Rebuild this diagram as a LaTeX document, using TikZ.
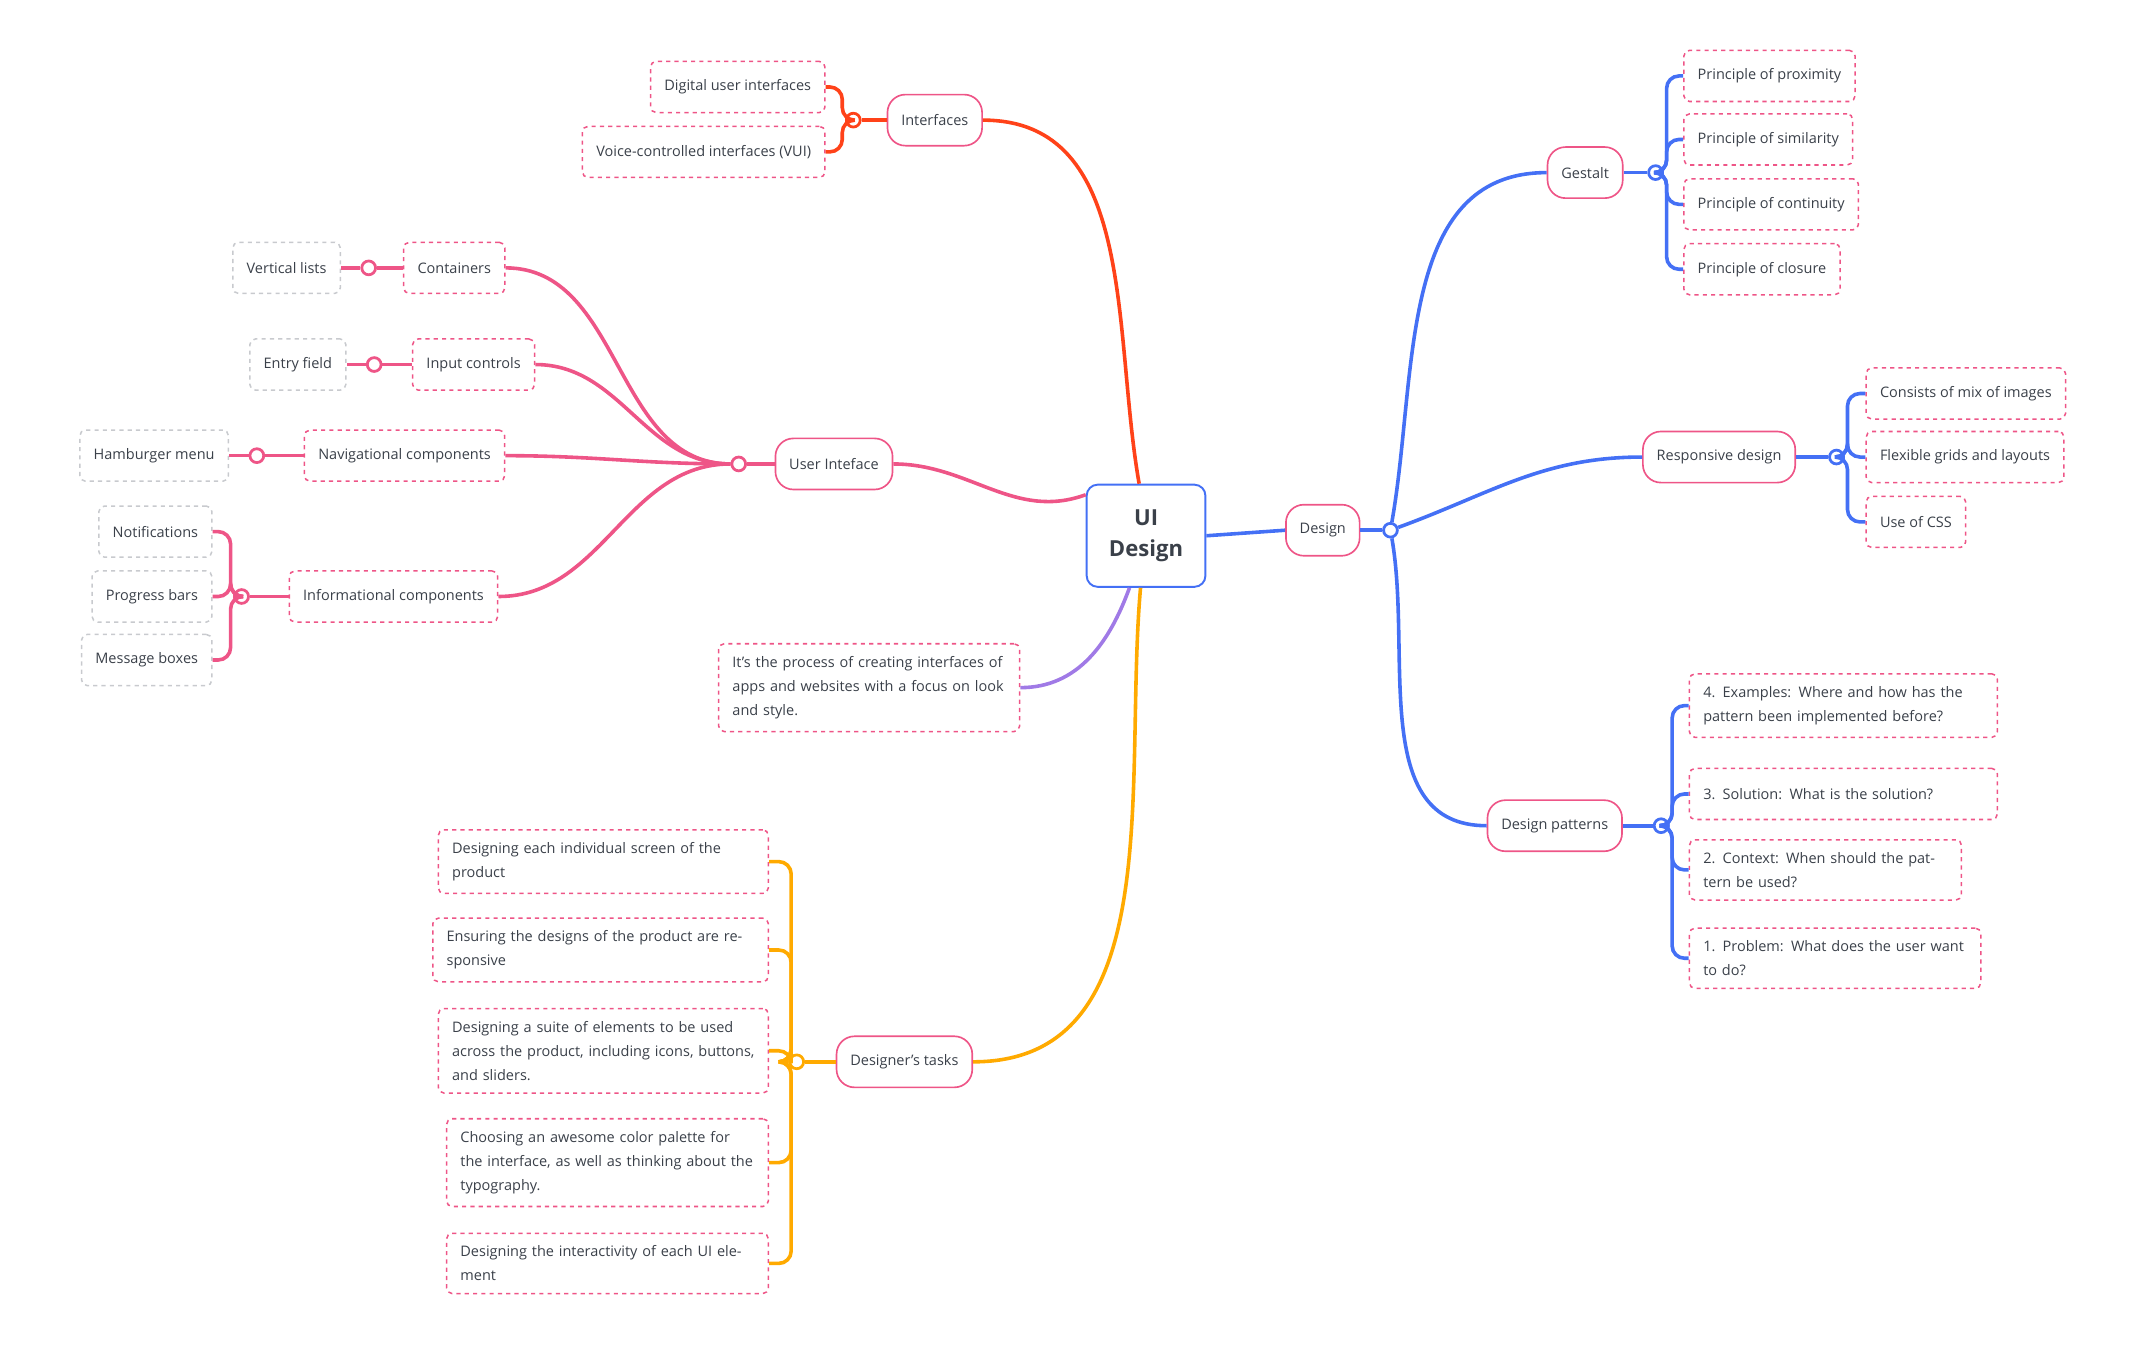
\documentclass[tikz,border=0pt]{standalone}
\usepackage{fontspec}
\setmainfont{Open Sans}
\definecolor{tx}{HTML}{3A4049}
\definecolor{pk}{HTML}{EE5587}
\definecolor{rd}{HTML}{FF4219}
\definecolor{bl}{HTML}{4470F5}
\definecolor{og}{HTML}{FFAA00}
\definecolor{pu}{HTML}{A07AE6}
\definecolor{gy}{HTML}{C8CACE}
\tikzset{
 pill/.style={draw=pk,line width=1.2pt,rounded corners=13pt,minimum height=37pt,inner xsep=10pt,text=tx,font=\fontsize{10.5}{17.5}\selectfont},
 leaf/.style={draw=pk,dashed,line width=1.1pt,rounded corners=4pt,minimum height=37pt,inner xsep=10pt,inner ysep=9pt,text=tx,font=\fontsize{10.5}{17.5}\selectfont,align=left},
 gleaf/.style={leaf,draw=gy},
 hub/.style={circle,draw=#1,fill=white,line width=2pt,inner sep=0pt,minimum size=10pt},
 br/.style={draw=#1,line width=2.6pt},
 rc/.style={br=#1,rounded corners=9pt},
}
\begin{document}
\begin{tikzpicture}[x=1pt,y=-1pt]
\useasboundingbox (0,0) rectangle (1560,975);
% center
\node[draw=bl,line width=1.4pt,rounded corners=8pt,minimum width=86pt,minimum height=74pt,align=center,text=tx,font=\fontsize{16}{23}\selectfont\bfseries] (c) at (830,388) {UI\\Design};
% Design branch
\node[pill] (d) at (958,384) {Design};
\node[hub=bl] (dh) at (1007,384) {};
\node[pill] (g) at (1148,125) {Gestalt};
\node[hub=bl] (gh) at (1199,125) {};
\node[leaf,anchor=west] (g1) at (1219,55) {Principle of proximity};
\node[leaf,anchor=west] (g2) at (1219,101) {Principle of similarity};
\node[leaf,anchor=west] (g3) at (1219,148) {Principle of continuity};
\node[leaf,anchor=west] (g4) at (1219,195) {Principle of closure};
\node[pill] (r) at (1245,331) {Responsive design};
\node[hub=bl] (rh) at (1330,331) {};
\node[leaf,anchor=west] (r1) at (1351,285) {Consists of mix of images};
\node[leaf,anchor=west] (r2) at (1351,331) {Flexible grids and layouts};
\node[leaf,anchor=west] (r3) at (1351,378) {Use of CSS};
\node[pill] (p) at (1126,598) {Design patterns};
\node[hub=bl] (ph) at (1203,598) {};
\node[leaf,anchor=west,text width=203pt] (p4) at (1223,511) {4. Examples: Where and how has the pattern been implemented before?};
\node[leaf,anchor=west,text width=203pt] (p3) at (1223,575) {3. Solution: What is the solution?};
\node[leaf,anchor=west,text width=177pt] (p2) at (1223,630) {2. Context: When should the pattern be used?};
\node[leaf,anchor=west,text width=191pt] (p1) at (1223,694) {1. Problem: What does the user want to do?};
\draw[br=bl] (c.east) -- (d.west);
\draw[br=bl] (d.east) -- (dh);
\draw[br=bl] (dh) to[out=80,in=180] (g.west);
\draw[br=bl] (dh) to[out=20,in=180] (r.west);
\draw[br=bl] (dh) to[out=-80,in=180] (p.west);
\draw[br=bl] (g.east) -- (gh); \draw[br=bl] (r.east) -- (rh); \draw[br=bl] (p.east) -- (ph);
\foreach \t in {g1,g2,g3,g4} \draw[rc=bl] (gh) -- ++(8,0) |- (\t.west);
\foreach \t in {r1,r2,r3} \draw[rc=bl] (rh) -- ++(8,0) |- (\t.west);
\foreach \t in {p1,p2,p3,p4} \draw[rc=bl] (ph) -- ++(8,0) |- (\t.west);
% Interfaces
\node[pill] (i) at (677,87) {Interfaces};
\node[hub=rd] (ih) at (618,87) {};
\node[leaf,anchor=east] (i1) at (598,63) {Digital user interfaces};
\node[leaf,anchor=east] (i2) at (598,110) {Voice-controlled interfaces (VUI)};
\draw[br=rd] ([xshift=-5pt]c.north) to[out=100,in=0] (i.east);
\draw[br=rd] (i.west) -- (ih);
\foreach \t in {i1,i2} \draw[rc=rd] (ih) -- ++(-8,0) |- (\t.east);
% User interface
\node[pill] (u) at (604,336) {User Inteface};
\node[hub=pk] (uh) at (535,336) {};
\node[leaf] (u1) at (329,194) {Containers};
\node[hub=pk] (u1h) at (267,194) {};
\node[gleaf,anchor=east] (u1a) at (247,194) {Vertical lists};
\node[leaf] (u2) at (343,264) {Input controls};
\node[hub=pk] (u2h) at (271,264) {};
\node[gleaf,anchor=east] (u2a) at (251,264) {Entry field};
\node[leaf] (u3) at (293,330) {Navigational components};
\node[hub=pk] (u3h) at (186,330) {};
\node[gleaf,anchor=east] (u3a) at (166,330) {Hamburger menu};
\node[leaf] (u4) at (285,432) {Informational components};
\node[hub=pk] (u4h) at (175,432) {};
\node[gleaf,anchor=east] (u4a) at (154,385) {Notifications};
\node[gleaf,anchor=east] (u4b) at (154,432) {Progress bars};
\node[gleaf,anchor=east] (u4c) at (154,478) {Message boxes};
\draw[br=pk] (c.north west) ++(0,8) to[out=200,in=0] (u.east);
\draw[br=pk] (u.west) -- (uh);
\foreach \t in {u1,u2,u3,u4} \draw[br=pk] (uh) to[out=180,in=0] (\t.east);
\draw[br=pk] (u1.west) -- (u1h) -- (u1a.east);
\draw[br=pk] (u2.west) -- (u2h) -- (u2a.east);
\draw[br=pk] (u3.west) -- (u3h) -- (u3a.east);
\draw[br=pk] (u4.west) -- (u4h);
\foreach \t in {u4a,u4b,u4c} \draw[rc=pk] (u4h) -- ++(-8,0) |- (\t.east);
% description
\node[leaf,text width=198pt,anchor=east] (desc) at (739,498) {It’s the process of creating interfaces of apps and websites with a focus on look and style.};
\draw[br=pu] ([xshift=-12pt]c.south) to[out=-110,in=0] (desc.east);
% Designer's tasks
\node[pill] (t) at (655,769) {Designer's tasks};
\node[hub=og] (th) at (577,769) {};
\node[leaf,anchor=east,text width=219pt] (t1) at (557,624) {Designing each individual screen of the product};
\node[leaf,anchor=east,text width=223pt] (t2) at (557,688) {Ensuring the designs of the product are responsive};
\node[leaf,anchor=east,text width=219pt] (t3) at (557,761) {Designing a suite of elements to be used across the product, including icons, buttons, and sliders.};
\node[leaf,anchor=east,text width=213pt] (t4) at (557,842) {Choosing an awesome color palette for the interface, as well as thinking about the typography.};
\node[leaf,anchor=east,text width=213pt] (t5) at (557,915) {Designing the interactivity of each UI element};
\draw[br=og] ([xshift=-4pt]c.south) to[out=-95,in=0] (t.east);
\draw[br=og] (t.west) -- (th);
\foreach \t in {t1,t2,t3,t4,t5} \draw[rc=og] (th) -- ++(-4,0) |- (\t.east);
\end{tikzpicture}
\end{document}
